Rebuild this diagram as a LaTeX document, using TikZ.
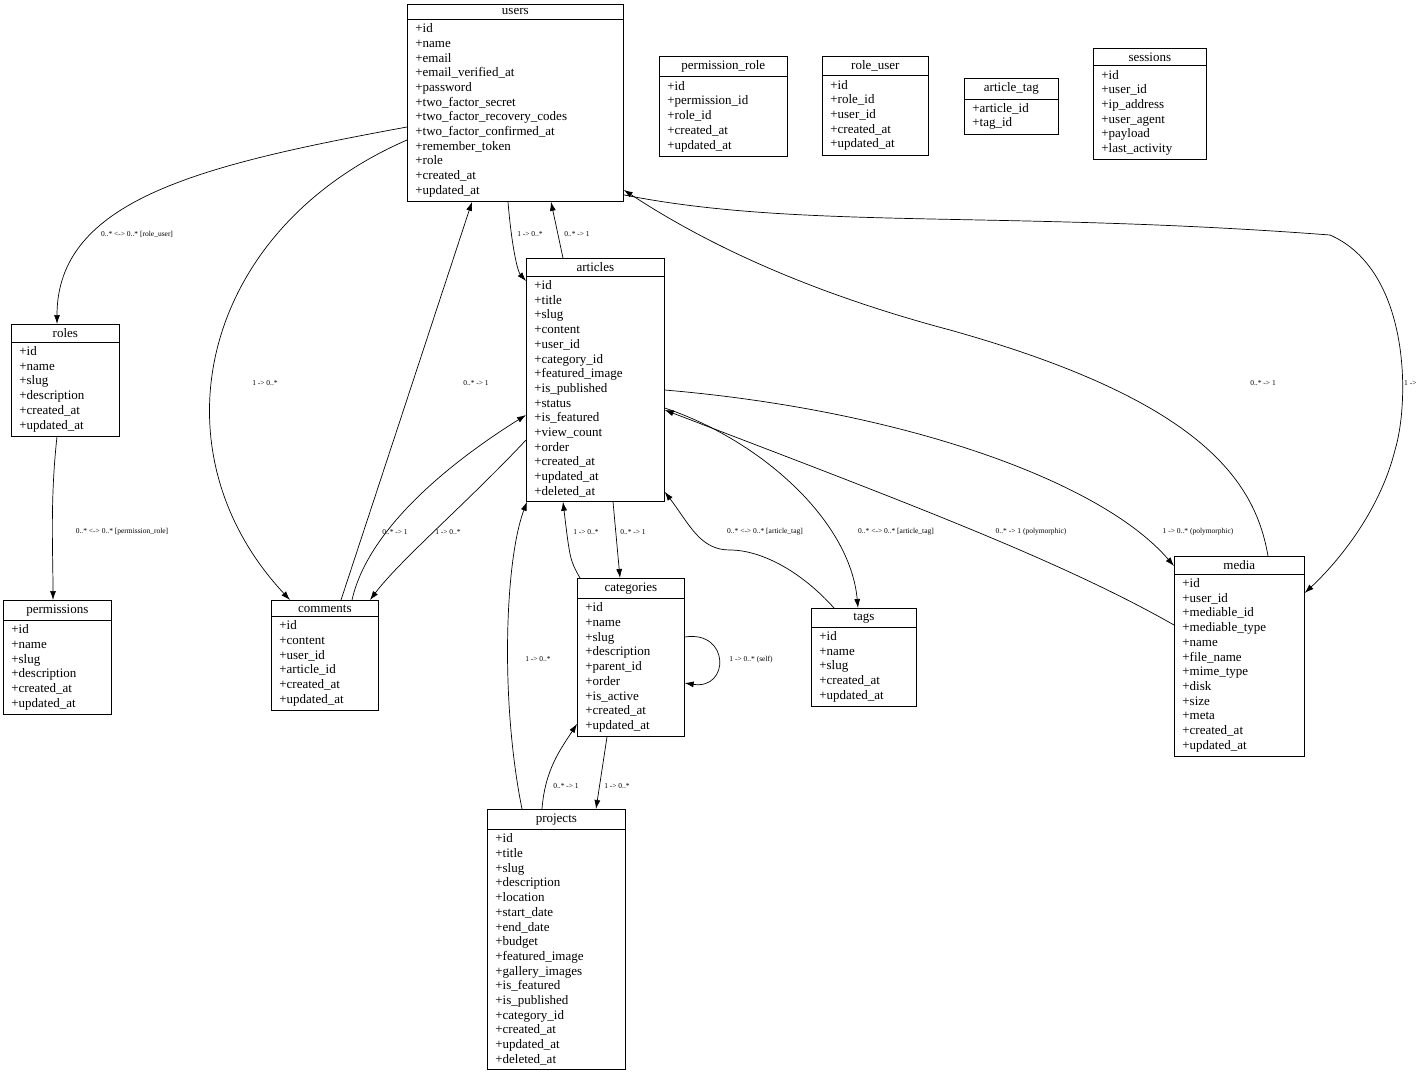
\documentclass[tikz,border=0pt]{standalone}
\usepackage{fontspec}
\setmainfont{Liberation Serif}
\usetikzlibrary{shapes.multipart,arrows.meta}
\begin{document}
\begin{tikzpicture}[x=1pt,y=-1pt,
 tbl/.style={draw, rectangle split, rectangle split parts=2, rectangle split part align={center,left}, align=left, anchor=north west, inner xsep=8pt, inner ysep=4pt, font=\fontsize{13}{14.7}\selectfont, line width=0.7pt},
 e/.style={-{Latex[length=9pt,width=6pt]}, line width=0.7pt},
 lbl/.style={font=\fontsize{7.5}{9}\selectfont, inner sep=1pt}]
\useasboundingbox (0,0) rectangle (1421,1080);
\node[tbl,minimum width=216pt] (users) at (407,4) {users\nodepart{two}+id\\+name\\+email\\+email\_verified\_at\\+password\\+two\_factor\_secret\\+two\_factor\_recovery\_codes\\+two\_factor\_confirmed\_at\\+remember\_token\\+role\\+created\_at\\+updated\_at};
\node[tbl,minimum width=128pt] (pr) at (659,56) {permission\_role\nodepart{two}+id\\+permission\_id\\+role\_id\\+created\_at\\+updated\_at};
\node[tbl,minimum width=106pt] (ru) at (822,56) {role\_user\nodepart{two}+id\\+role\_id\\+user\_id\\+created\_at\\+updated\_at};
\node[tbl,minimum width=94pt] (at) at (964,78) {article\_tag\nodepart{two}+article\_id\\+tag\_id};
\node[tbl,minimum width=113pt] (sessions) at (1093,48) {sessions\nodepart{two}+id\\+user\_id\\+ip\_address\\+user\_agent\\+payload\\+last\_activity};
\node[tbl,minimum width=108pt] (roles) at (11,324) {roles\nodepart{two}+id\\+name\\+slug\\+description\\+created\_at\\+updated\_at};
\node[tbl,minimum width=138pt] (articles) at (526,258) {articles\nodepart{two}+id\\+title\\+slug\\+content\\+user\_id\\+category\_id\\+featured\_image\\+is\_published\\+status\\+is\_featured\\+view\_count\\+order\\+created\_at\\+updated\_at\\+deleted\_at};
\node[tbl,minimum width=108pt] (permissions) at (3,600) {permissions\nodepart{two}+id\\+name\\+slug\\+description\\+created\_at\\+updated\_at};
\node[tbl,minimum width=107pt] (comments) at (271,600) {comments\nodepart{two}+id\\+content\\+user\_id\\+article\_id\\+created\_at\\+updated\_at};
\node[tbl,minimum width=107pt] (categories) at (577,578) {categories\nodepart{two}+id\\+name\\+slug\\+description\\+parent\_id\\+order\\+is\_active\\+created\_at\\+updated\_at};
\node[tbl,minimum width=105pt] (tags) at (811,608) {tags\nodepart{two}+id\\+name\\+slug\\+created\_at\\+updated\_at};
\node[tbl,minimum width=130pt] (media) at (1174,556) {media\nodepart{two}+id\\+user\_id\\+mediable\_id\\+mediable\_type\\+name\\+file\_name\\+mime\_type\\+disk\\+size\\+meta\\+created\_at\\+updated\_at};
\node[tbl,minimum width=138pt] (projects) at (487,809) {projects\nodepart{two}+id\\+title\\+slug\\+description\\+location\\+start\_date\\+end\_date\\+budget\\+featured\_image\\+gallery\_images\\+is\_featured\\+is\_published\\+category\_id\\+created\_at\\+updated\_at\\+deleted\_at};
% edges
\draw[e] ([yshift=-123pt]users.north west) .. controls (200,165) and (57,200) .. ([xshift=46pt]roles.north west);
\draw[e] ([xshift=46pt]roles.south west) .. controls (50,500) and (53,550) .. ([xshift=50pt]permissions.north west);
\draw[e] ([yshift=-136pt]users.north west) .. controls (200,230) and (150,450) .. ([xshift=19pt]comments.north west);
\draw[e] ([xshift=70pt]comments.north west) -- ([xshift=65pt]users.south west);
\draw[e] ([xshift=101pt]users.south west) .. controls (512,250) and (518,272) .. ([yshift=-23pt]articles.north west);
\draw[e] ([xshift=37pt]articles.north west) -- ([xshift=144pt]users.south west);
\draw[e] ([xshift=81pt]comments.north west) .. controls (370,520) and (470,450) .. ([yshift=-157pt]articles.north west);
\draw[e] ([yshift=-182pt]articles.north west) .. controls (470,500) and (400,560) .. ([xshift=99pt]comments.north west);
\draw[e] ([xshift=87pt]articles.south west) -- ([xshift=43pt]categories.north west);
\draw[e] ([xshift=3pt]categories.north west) .. controls (570,560) .. ([xshift=37pt]articles.south west);
\draw[e] ([xshift=35pt]projects.north west) .. controls (500,700) and (505,560) .. ([xshift=1pt]articles.south west);
\draw[e] ([xshift=55pt]projects.north west) .. controls (545,770) and (560,750) .. ([yshift=13pt]categories.south west);
\draw[e] ([xshift=30pt]categories.south west) -- ([xshift=109pt]projects.north west);
\draw[e] ([yshift=-59pt]categories.north east) .. controls (730,630) and (730,690) .. ([yshift=-105pt]categories.north east);
\draw[e] ([xshift=23pt]tags.north west) .. controls (800,570) and (760,550) .. (730,550) .. controls (700,550) and (690,525) .. ([yshift=10pt]articles.south east);
\draw[e] ([yshift=-150pt]articles.north east) .. controls (760,440) and (850,520) .. ([xshift=47pt]tags.north west);
\draw[e] ([yshift=-69pt]media.north west) .. controls (1060,560) and (900,500) .. ([yshift=-152pt]articles.north east);
\draw[e] ([yshift=-132pt]articles.north east) .. controls (900,410) and (1100,480) .. ([yshift=-10pt]media.north west);
\draw[e] ([xshift=94pt]media.north west) .. controls (1255,480) and (1200,400) .. (950,330) .. controls (800,290) and (700,240) .. ([yshift=12pt]users.south east);
\draw[e] ([yshift=7pt]users.south east) .. controls (800,230) and (1000,210) .. (1330,235) .. controls (1410,270) and (1410,400) .. (1395,450) .. controls (1380,510) and (1340,560) .. ([yshift=-37pt]media.north east);
% labels
\node[lbl] at (137,234) {0..* <-> 0..* [role\_user]};
\node[lbl] at (122,532) {0..* <-> 0..* [permission\_role]};
\node[lbl] at (265,383) {1 -> 0..*};
\node[lbl] at (476,383) {0..* -> 1};
\node[lbl] at (530,234) {1 -> 0..*};
\node[lbl] at (577,234) {0..* -> 1};
\node[lbl] at (395,532) {0..* -> 1};
\node[lbl] at (448,532) {1 -> 0..*};
\node[lbl] at (586,532) {1 -> 0..*};
\node[lbl] at (633,532) {0..* -> 1};
\node[lbl] at (538,659) {1 -> 0..*};
\node[lbl] at (566,786) {0..* -> 1};
\node[lbl] at (617,786) {1 -> 0..*};
\node[lbl] at (751,660) {1 -> 0..* (self)};
\node[lbl] at (765,532) {0..* <-> 0..* [article\_tag]};
\node[lbl] at (896,532) {0..* <-> 0..* [article\_tag]};
\node[lbl] at (1031,532) {0..* -> 1 (polymorphic)};
\node[lbl] at (1198,532) {1 -> 0..* (polymorphic)};
\node[lbl] at (1263,383) {0..* -> 1};
\node[lbl,anchor=west] at (1403,383) {1 ->};
\end{tikzpicture}
\end{document}
